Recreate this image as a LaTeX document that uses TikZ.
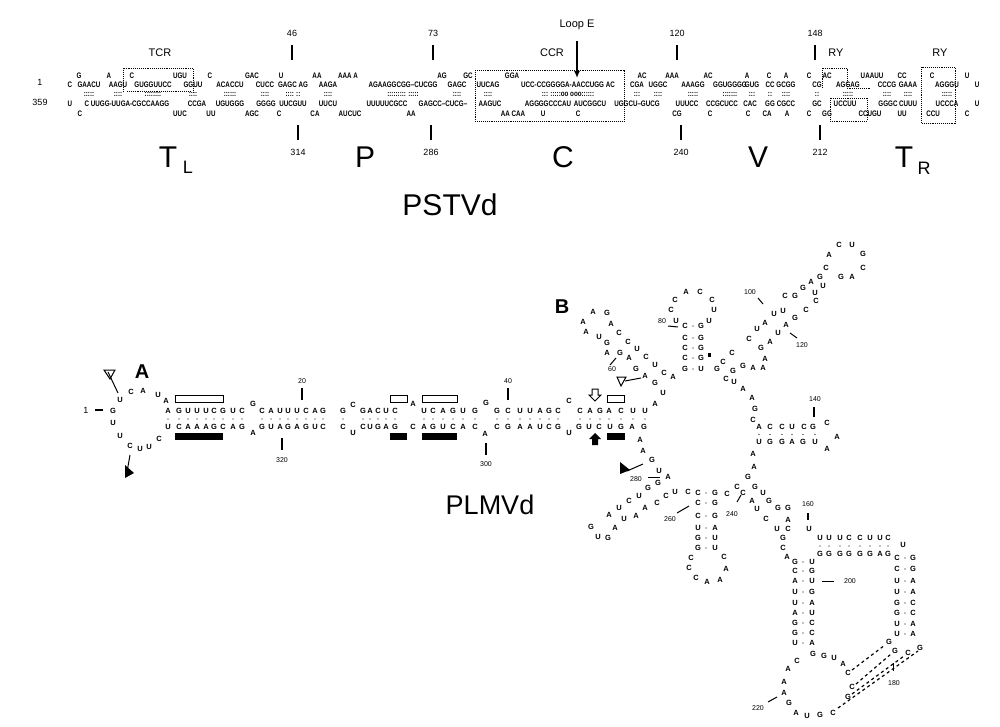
\documentclass[tikz,border=0pt]{standalone}
\usepackage{fontspec}
\setmainfont{Liberation Sans}
\usetikzlibrary{shapes.geometric,arrows.meta}
\begin{document}
\begin{tikzpicture}[x=1pt,y=-1pt,
 ps/.style={inner sep=0pt,font=\bfseries\fontsize{8}{8}\selectfont,xscale=0.78},
 b/.style={inner sep=0pt,font=\bfseries\fontsize{7.5}{8}\selectfont},
 num/.style={inner sep=0pt,font=\fontsize{9}{10}\selectfont},
 sn/.style={inner sep=0pt,font=\fontsize{7}{8}\selectfont},
 big/.style={inner sep=0pt,font=\fontsize{30}{32}\selectfont},
 lab/.style={inner sep=0pt,font=\fontsize{11}{12}\selectfont},
 tick/.style={line width=1.2pt},
 dbox/.style={densely dotted,line width=0.9pt},
 obox/.style={draw,line width=0.9pt}]
\useasboundingbox (0,0) rectangle (1000,727);
% ================= PSTVd =================
\foreach \xx/\ll in {79/G,109/A,132/C,180/UGU,210/C,252/GAC,281/U,317/AA,348/AAA A,442/AG,468/GC,512/GGA,642/AC,672/AAA,708/AC,747/A,769/C,786/A,809/C,827/AC,872/UAAUU,902/CC,932/C,967/U}
 \node[ps] at (\xx,76) {\ll};
\foreach \xx/\ll in {70/C,89/GAACU,118/AAGU,153/GUGGUUCC,193/GGUU,230/ACACCU,265/CUCC,293/GAGC AG,328/AAGA,403/AGAAGGCGG--CUCGG,457/GAGC,488/UUCAG,568/UCC-CCGGGGA-AACCUGG AC,637/CGA,658/UGGC,693/AAAGG,730/GGUGGGG,752/GUG,770/CC,786/GCGG,817/CG,848/AGGAG,887/CCCG,908/GAAA,947/AGGGU,977/U}
 \node[ps] at (\xx,85) {\ll};
\foreach \xx/\ll in {89/:::::,118/::::,153/::::::::,193/::::,230/::::::,265/::::,293/:::: ::,328/::::,403/::::::::: :::::,457/::::,488/::::,568/::: :::::oo ooo::::::,637/:::,658/::::,693/:::::,730/:::::::,752/:::,770/::,786/::::,817/::,848/:::::,887/::::,908/::::,947/:::::}
 \node[ps] at (\xx,94) {\ll};
\foreach \xx/\ll in {70/U,127/C UUGG-UUGA-CGCCAAGG,197/CCGA,230/UGUGGG,266/GGGG,293/UUCGUU,328/UUCU,387/UUUUUCGCC,443/GAGCC--CUCG--,490/AAGUC,532/AGG,555/GGCCCAU,590/AUCGGCU,637/UGGCU--GUCG,687/UUUCC,722/CCGCUCC,750/CAC,770/GG,786/CGCC,817/GC,845/UCCUU,888/GGGC,908/CUUU,947/UCCCA,977/U}
 \node[ps] at (\xx,104) {\ll};
\foreach \xx/\ll in {80/C,180/UUC,211/UU,252/AGC,279/C,315/CA,350/AUCUC,411/AA,513/AA CAA,543/U,578/C,677/CG,710/C,748/C,767/CA,787/A,809/C,827/GG,870/CCUGU,902/UU,933/CCU,967/C}
 \node[ps] at (\xx,114) {\ll};
\node[num] (n1) at (40,82) {1};
\node[num] (n359) at (40,102) {359};
\node[lab] (tcr) at (160,53) {TCR};
\node[lab] (ccr) at (552,53) {CCR};
\node[lab] (lpe) at (577,25) {Loop E};
\node[lab] (ry1) at (836,53) {RY};
\node[lab] (ry2) at (940,53) {RY};
\foreach \xx/\tt in {292/46,433/73,677/120,815/148}{
 \node[num] at (\xx,33) {\tt};
 \draw[tick] (\xx,45) -- (\xx,60);}
\foreach \xx/\tt in {298/314,431/286,681/240,820/212}{
 \node[num] at (\xx,152) {\tt};
 \draw[tick] (\xx,125) -- (\xx,140);}
\coordinate (lpa) at (577,41);
\coordinate (lpb) at (577,78);
\draw[line width=1.4pt,-{Latex[length=7pt,width=6pt]}] (lpa) -- (lpb);
\draw[dbox] (123,92) -- (123,68) -- (193,68) -- (193,92);
\draw[dbox] (127,91) -- (190,91);
\draw[dbox] (475,70) rectangle (624,121);
\draw[dbox] (822,88) -- (822,68) -- (847,68) -- (847,88) -- (870,88);
\draw[dbox] (830,98) rectangle (867,121);
\draw[dbox] (921,67) rectangle (955,123);
\node[big] at (168,157) {T};
\node[lab,font=\fontsize{18}{20}\selectfont] at (188,167) {L};
\node[big] at (365,157) {P};
\node[big] at (563,157) {C};
\node[big] at (758,157) {V};
\node[big] at (904,157) {T};
\node[lab,font=\fontsize{18}{20}\selectfont] at (924,168) {R};
\node[big] (pstvd) at (450,205) {PSTVd};
% ================= PLMVd (A) =================
\foreach \xx/\ll in {168/A,179/G,188/U,197/U,206/U,214/C,223/G,233/U,242/C,262/C,271/A,280/U,288/U,297/U,306/C,315/A,323/G,343/G,363/G,370/A,378/C,386/U,395/C,424/U,433/C,443/A,453/G,463/U,475/G,497/G,508/C,520/U,530/U,540/A,549/G,558/C,580/C,590/A,600/G,609/A,621/C,633/U,645/U}
 \node[b] at (\xx,411) {\ll};
\foreach \xx/\ll in {168/U,179/C,188/A,197/A,206/A,214/G,223/C,233/A,242/G,262/G,271/U,280/A,288/G,297/A,306/G,315/U,323/C,343/C,363/C,370/U,378/G,386/A,395/G,413/C,424/A,433/G,443/U,453/C,463/A,475/C,497/C,508/G,520/A,530/A,540/U,549/C,558/G,579/G,589/U,599/C,610/U,621/G,632/A,644/G}
 \node[b] at (\xx,427) {\ll};
\foreach \xx in {168,179,188,197,206,214,223,233,242,262,271,280,288,297,306,315,323,343,363,370,378,386,395,424,433,443,453,463,475,497,508,520,530,540,549,558,580,590,600,609,621,633,645}
 \fill (\xx,419) circle (0.6);
\foreach \xx/\yy/\ll in {253/404/G,353/405/C,413/404/A,486/403/G,569/401/C,253/433/A,353/433/U,485/434/A,569/433/U,
 113/411/G,120/400/U,131/392/C,143/391/A,158/395/U,166/401/A,113/423/U,120/436/U,130/446/C,140/449/U,149/447/U,159/439/C}
 \node[b] at (\xx,\yy) {\ll};
\node[num] (p1) at (86,410) {1};
\draw[tick] (95,410) -- (103,410);
\node[inner sep=0pt,font=\bfseries\fontsize{20}{22}\selectfont] (A) at (142,372) {A};
\draw[line width=1pt] (118,393) -- (108,372);
\draw[line width=1pt] (104,370) -- (115,370) -- (110,379) -- cycle;
\draw[line width=1pt] (130,455) -- (127,472);
\fill (125,465) -- (125,478) -- (134,473) -- cycle;
\foreach \xa/\xb in {175/223,390/407,422/457,607/624} \draw[obox] (\xa,395) rectangle (\xb,402);
\foreach \xa/\xb in {175/223,390/407,422/457,607/625} \fill (\xa,433) rectangle (\xb,440);
\draw[line width=1pt] (592,389) -- (598,389) -- (598,395) -- (601,395) -- (595,401) -- (589,395) -- (592,395) -- cycle;
\fill (592,445) -- (598,445) -- (598,439) -- (601,439) -- (595,433) -- (589,439) -- (592,439) -- cycle;
\node[sn] at (302,381) {20};
\draw[tick] (302,388) -- (302,400);
\node[sn] at (508,381) {40};
\draw[tick] (508,388) -- (508,400);
\node[sn] at (282,460) {320};
\draw[tick] (282,438) -- (282,450);
\node[sn] at (486,464) {300};
\draw[tick] (486,443) -- (486,455);
\node[big,font=\fontsize{27}{30}\selectfont] (plmvd) at (490,505) {PLMVd};
% ================= PLMVd (B) =================
\node[inner sep=0pt,font=\bfseries\fontsize{20}{22}\selectfont] (B) at (562,307) {B};
\foreach \xx/\yy/\ll in {593/312/A,607/313/G,583/322/A,611/324/A,586/332/A,599/337/U,619/333/C,607/343/G,628/342/C,607/353/A,620/353/G,637/349/U,629/358/A,646/357/C,636/369/G,655/365/U,664/373/C,645/376/A,673/377/A,655/383/G,663/393/U,655/404/A,
675/300/C,686/292/A,700/292/C,712/300/C,671/310/C,714/310/U,709/321/U,676/321/U,
685/326/C,685/338/C,685/348/C,685/358/C,685/369/G,701/326/G,701/338/G,701/348/G,701/358/G,701/369/U,
717/369/G,723/362/C,733/371/G,732/353/C,749/339/C,743/366/G,753/368/A,763/368/A,757/329/U,765/323/A,770/342/A,761/348/G,765/359/A,774/314/U,783/311/U,778/333/U,786/325/A,795/318/G,785/296/C,795/296/G,806/310/C,803/288/G,815/293/U,816/301/C,811/282/A,820/277/G,823/286/U,841/277/G,852/277/A,826/268/C,863/268/C,829/255/A,839/245/C,852/245/U,863/254/G,
726/379/C,734/382/U,743/389/A,752/398/A,755/409/G,753/420/C,
759/427/A,770/427/C,782/427/C,792/427/U,804/427/C,813/427/G,827/423/C,837/437/A,827/449/A,
759/442/U,770/442/G,782/442/G,792/442/A,803/442/G,815/442/U,
753/454/A,754/467/A,748/477/G,737/487/C,755/487/G,743/493/C,763/493/U,752/501/A,769/501/G,757/509/U,778/508/G,788/508/G,766/519/C,788/520/A,777/529/U,788/529/C,783/538/G,783/548/C,787/557/A,809/529/U,
640/440/A,643/451/A,652/460/G,659/471/U,668/477/A,658/483/G,648/488/G,675/492/U,688/492/C,666/496/C,639/496/U,657/503/C,629/501/C,645/508/A,619/508/U,609/515/A,624/519/U,636/516/A,591/527/G,615/528/A,598/537/U,608/538/G,727/494/C,
698/493/C,698/503/C,698/516/C,698/528/U,698/538/G,698/548/G,715/493/G,715/503/G,715/516/G,715/528/A,715/538/U,715/548/U,
691/558/C,689/568/C,696/578/C,707/582/A,720/580/A,726/569/A,724/557/C,
820/538/U,829/538/U,840/538/U,849/538/C,860/538/C,870/538/U,880/538/U,888/538/C,903/545/U,
820/554/G,829/554/G,840/554/G,849/554/G,860/554/G,870/554/G,880/554/A,888/554/G,
897/558/C,897/569/C,897/581/U,897/592/U,897/603/G,897/613/G,897/624/U,897/634/U,
913/558/G,913/569/G,913/581/A,913/592/A,913/603/C,913/613/C,913/624/A,913/634/A,
795/562/G,795/571/C,795/581/A,795/592/U,795/603/U,795/613/A,795/623/G,795/633/G,795/643/U,
812/562/U,812/571/G,812/581/U,812/592/G,812/603/A,812/613/U,812/623/C,812/633/C,812/643/A,
797/661/C,813/654/G,824/656/G,834/658/U,843/664/A,788/669/A,784/682/A,784/693/A,789/703/G,796/713/A,807/716/U,820/715/G,833/713/C,
848/673/C,852/687/C,848/697/G,889/642/G,895/651/G,908/653/C,920/648/G}
 \node[b] at (\xx,\yy) {\ll};
% base pair dots
\foreach \yy in {326,338,348,358,369} \fill (693,\yy) circle (0.6);
\foreach \yy in {493,503,516,528,538,548} \fill (706,\yy) circle (0.6);
\foreach \yy in {558,569,581,592,603,613,624,634} \fill (905,\yy) circle (0.6);
\foreach \yy in {562,571,581,592,603,613,623,633,643} \fill (803,\yy) circle (0.6);
\foreach \xx in {820,829,840,849,860,870,880,888} \fill (\xx,546) circle (0.6);
\foreach \xx in {759,770,782,792,803,815} \fill (\xx,434.5) circle (0.6);
\fill (708,353) rectangle (711,357);
% labels B
\foreach \xx/\yy/\tt in {612/369/60,662/321/80,750/292/100,802/345/120,815/399/140,808/504/160,894/683/180,850/581/200,758/708/220,732/514/240,670/519/260,636/479/280}
 \node[sn] at (\xx,\yy) {\tt};
\draw[line width=1pt] (610,365) -- (616,358);
\draw[line width=1pt] (668,326) -- (678,327);
\draw[line width=1pt] (758,298) -- (763,304);
\draw[line width=1pt] (790,333) -- (797,338);
\draw[tick] (814,407) -- (814,417);
\draw[tick] (808,513) -- (808,520);
\draw[line width=1pt] (893,663) -- (893,671);
\draw[line width=1pt] (822,581) -- (834,581);
\draw[line width=1pt] (768,702) -- (777,697);
\draw[line width=1pt] (737,502) -- (741,495);
\draw[line width=1pt] (677,513) -- (689,506);
\draw[line width=1pt] (648,477) -- (660,477);
\draw[line width=1pt] (625,381) -- (641,378);
\draw[line width=1pt] (617,377) -- (626,377) -- (621,386) -- cycle;
\draw[line width=1pt] (627,471) -- (643,464);
\fill (620,462) -- (620,474) -- (630,470) -- cycle;
\foreach \a/\c in {{852,670}/{885,645},{856,684}/{891,654},{852,694}/{904,656},{838,708}/{918,651}}
 \draw[dashed,line width=1.2pt] (\a) -- (\c);
\end{tikzpicture}
\end{document}
